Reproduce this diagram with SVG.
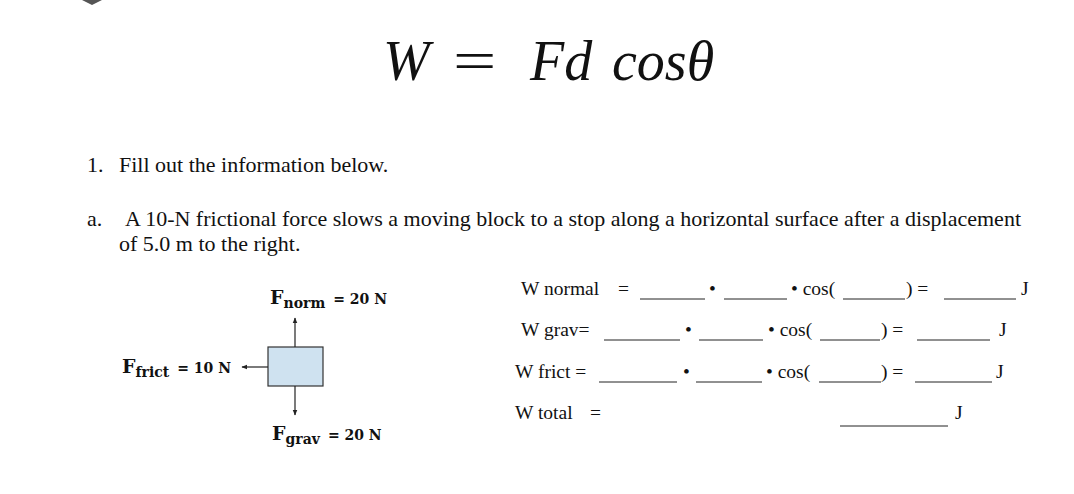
<svg xmlns="http://www.w3.org/2000/svg" width="1074" height="494" viewBox="0 0 1074 494">
<style>
.t{font-family:"Liberation Serif",serif;font-size:19.5px;fill:#111}
.p{font-family:"Liberation Serif",serif;font-size:22px;fill:#111}
.b{font-family:"DejaVu Serif","Liberation Serif",serif;font-weight:bold;font-size:14px;fill:#111}
.ti{font-family:"Liberation Serif",serif;font-style:italic;font-size:56px;fill:#111}
.u{stroke:#222;stroke-width:1}
.a{stroke:#222;stroke-width:1.2;fill:none;marker-end:url(#ah)}
</style>
<defs><marker id="ah" viewBox="0 0 10 10" refX="9" refY="5" markerWidth="5" markerHeight="5" orient="auto"><path d="M0,1 L10,5 L0,9 z" fill="#222"/></marker></defs>
<rect width="1074" height="494" fill="#fff"/>
<path d="M82,0 L102,0 L92,5 z" fill="#555"/>
<g id="title">
<text class="ti" x="383" y="80">W</text>
<text class="ti" x="448" y="80" font-style="normal" textLength="52" lengthAdjust="spacingAndGlyphs">=</text>
<text class="ti" x="530" y="80">Fd</text>
<text class="ti" x="612" y="80" font-size="60">cosθ</text>
</g>
<text class="p" x="87" y="172">1.</text><text class="p" x="119" y="172">Fill out the information below.</text>
<text class="p" x="87" y="226">a.</text><text class="p" x="125" y="226" textLength="896">A 10-N frictional force slows a moving block to a stop along a horizontal surface after a displacement</text>
<text class="p" x="119" y="251">of 5.0 m to the right.</text>
<g id="block"><rect x="268" y="347" width="55" height="39" fill="#cfe2f0" stroke="#333" stroke-width="1.2"/></g>
<g id="connectors">
<line class="a" x1="295" y1="347" x2="295" y2="318"/>
<line class="a" x1="295" y1="386" x2="295" y2="415"/>
<line class="a" x1="268" y1="367" x2="242" y2="367"/>
</g>
<g id="labels">
<text class="b" x="270" y="304"><tspan font-size="19">F</tspan><tspan dy="4">norm</tspan><tspan dy="-4" dx="8">= 20 N</tspan></text>
<text class="b" x="122" y="373"><tspan font-size="19">F</tspan><tspan dy="4">frict</tspan><tspan dy="-4" dx="8">= 10 N</tspan></text>
<text class="b" x="272" y="440"><tspan font-size="19">F</tspan><tspan dy="4">grav</tspan><tspan dy="-4" dx="8">= 20 N</tspan></text>
</g>
<g id="equations">
<text class="t" x="521" y="295">W normal</text><text class="t" x="618" y="295">=</text>
<line class="u" x1="640" y1="299" x2="705" y2="299"/><text class="t" x="709" y="295">•</text>
<line class="u" x1="724" y1="299" x2="787" y2="299"/><text class="t" x="791" y="295">• cos(</text>
<line class="u" x1="843" y1="299" x2="905" y2="299"/><text class="t" x="906" y="295">) =</text>
<line class="u" x1="944" y1="299" x2="1016" y2="299"/><text class="t" x="1021" y="295">J</text>

<text class="t" x="521" y="336">W grav=</text>
<line class="u" x1="604" y1="340" x2="680" y2="340"/><text class="t" x="685" y="336">•</text>
<line class="u" x1="699" y1="340" x2="763" y2="340"/><text class="t" x="768" y="336">• cos(</text>
<line class="u" x1="820" y1="340" x2="880" y2="340"/><text class="t" x="881" y="336">) =</text>
<line class="u" x1="917" y1="340" x2="990" y2="340"/><text class="t" x="999" y="336">J</text>

<text class="t" x="515" y="378">W frict =</text>
<line class="u" x1="599" y1="382" x2="677" y2="382"/><text class="t" x="683" y="378">•</text>
<line class="u" x1="696" y1="382" x2="762" y2="382"/><text class="t" x="766" y="378">• cos(</text>
<line class="u" x1="819" y1="382" x2="881" y2="382"/><text class="t" x="881" y="378">) =</text>
<line class="u" x1="915" y1="382" x2="992" y2="382"/><text class="t" x="996" y="378">J</text>

<text class="t" x="515" y="419">W total</text><text class="t" x="590" y="419">=</text>
<line class="u" x1="840" y1="426" x2="948" y2="426"/><text class="t" x="955" y="419">J</text>
</g>
</svg>
